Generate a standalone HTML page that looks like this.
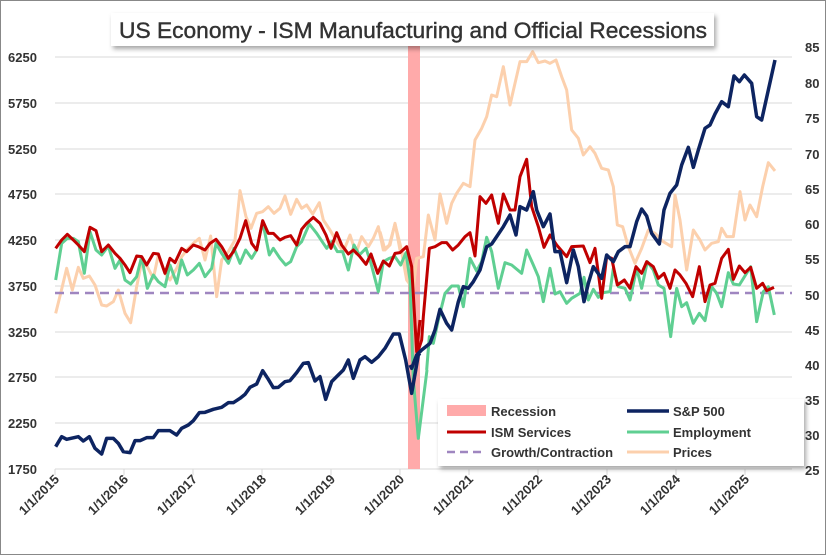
<!DOCTYPE html>
<html><head><meta charset="utf-8"><style>
body{margin:0;background:#fff;}
svg{display:block;font-family:"Liberation Sans",sans-serif;}
.ax{font-size:13px;font-weight:bold;fill:#333;}
.lg{font-size:13px;font-weight:bold;fill:#333;}
</style></head><body>
<svg width="826" height="555" viewBox="0 0 826 555">
<defs>
<filter id="sh" x="-5%" y="-20%" width="110%" height="160%"><feDropShadow dx="2" dy="3" stdDeviation="2.5" flood-color="#000" flood-opacity="0.35"/></filter>
</defs>
<rect x="0.5" y="0.5" width="825" height="554" fill="#fff" stroke="#888"/>
<g stroke="#d9d9d9" stroke-width="1">
<line x1="55" x2="792" y1="57" y2="57"/><line x1="55" x2="792" y1="103" y2="103"/><line x1="55" x2="792" y1="149" y2="149"/><line x1="55" x2="792" y1="194" y2="194"/><line x1="55" x2="792" y1="240" y2="240"/><line x1="55" x2="792" y1="286" y2="286"/><line x1="55" x2="792" y1="332" y2="332"/><line x1="55" x2="792" y1="377" y2="377"/><line x1="55" x2="792" y1="423" y2="423"/><line x1="55" x2="792" y1="469" y2="469"/>
<line x1="55" x2="55" y1="469" y2="475"/><line x1="124" x2="124" y1="469" y2="475"/><line x1="193" x2="193" y1="469" y2="475"/><line x1="262" x2="262" y1="469" y2="475"/><line x1="331" x2="331" y1="469" y2="475"/><line x1="400" x2="400" y1="469" y2="475"/><line x1="469" x2="469" y1="469" y2="475"/><line x1="538" x2="538" y1="469" y2="475"/><line x1="607" x2="607" y1="469" y2="475"/><line x1="676" x2="676" y1="469" y2="475"/><line x1="745" x2="745" y1="469" y2="475"/>
</g>
<rect x="408" y="45" width="12" height="424" fill="#ffaaaa"/>
<g class="ax" text-anchor="start">
<text x="8" y="62">6250</text><text x="8" y="108">5750</text><text x="8" y="154">5250</text><text x="8" y="199">4750</text><text x="8" y="245">4250</text><text x="8" y="291">3750</text><text x="8" y="337">3250</text><text x="8" y="382">2750</text><text x="8" y="428">2250</text><text x="8" y="474">1750</text>
<text x="805" y="52">85</text><text x="805" y="88">80</text><text x="805" y="123">75</text><text x="805" y="159">70</text><text x="805" y="194">65</text><text x="805" y="229">60</text><text x="805" y="264">55</text><text x="805" y="300">50</text><text x="805" y="335">45</text><text x="805" y="370">40</text><text x="805" y="405">35</text><text x="805" y="440">30</text><text x="805" y="475">25</text>
</g>
<g class="ax" text-anchor="end">
<text transform="translate(60,480) rotate(-45)">1/1/2015</text>
<text transform="translate(129,480) rotate(-45)">1/1/2016</text>
<text transform="translate(198,480) rotate(-45)">1/1/2017</text>
<text transform="translate(267,480) rotate(-45)">1/1/2018</text>
<text transform="translate(336,480) rotate(-45)">1/1/2019</text>
<text transform="translate(405,480) rotate(-45)">1/1/2020</text>
<text transform="translate(474,480) rotate(-45)">1/1/2021</text>
<text transform="translate(543,480) rotate(-45)">1/1/2022</text>
<text transform="translate(612,480) rotate(-45)">1/1/2023</text>
<text transform="translate(681,480) rotate(-45)">1/1/2024</text>
<text transform="translate(750,480) rotate(-45)">1/1/2025</text>
</g>
<g fill="none" stroke-linejoin="round">
<g transform="translate(40,180) scale(0.33333)">
<polyline vector-effect="non-scaling-stroke" stroke="#fcd0ad" stroke-width="3" points="47,400 62,340 80,265 97,330 115,262 130,295 148,288 165,315 185,375 200,378 220,365 235,330 255,400 272,428 290,320 305,245 322,260 340,295 355,225 375,280 390,300 410,265 425,230 442,208 460,190 478,175 495,240 512,168 530,350 545,240 565,215 585,180 600,32 618,110 633,145 650,100 668,95 685,80 702,100 720,85 735,48 752,103 770,58 785,85 800,75 818,102 838,68 850,120 870,150 890,185 910,215 930,165 948,220 965,170 985,200 1000,175 1015,140 1030,210 1048,195 1065,132 1082,200 1100,300 1115,320 1130,235"/>
</g>
<g transform="translate(380,40) scale(0.33333)">
<polyline vector-effect="non-scaling-stroke" stroke="#fcd0ad" stroke-width="3" points="0,575 15,630 30,615 45,550 60,630 75,650 85,720 100,750 110,655 130,650 145,525 165,600 180,462 200,550 215,490 230,460 250,430 270,440 285,300 305,265 320,230 335,165 350,170 370,80 390,195 405,130 420,65 440,65 458,35 475,68 495,63 510,70 528,60 545,110 560,150 575,270 595,295 610,345 630,320 645,340 665,385 685,390 700,440 712,555 728,560 745,620 765,670 785,625 805,570 825,580 850,605 875,620 885,465 900,540 920,690 940,570 960,600 975,630 995,610 1015,605 1025,565 1040,590 1060,590 1080,455 1095,540 1110,495 1130,530 1148,440 1165,368 1185,393"/>
</g>
<line x1="55" x2="792" y1="293" y2="293" stroke="#9f86c0" stroke-width="2.5" stroke-dasharray="9,6"/>
<g transform="translate(40,180) scale(0.33333)">
<polyline vector-effect="non-scaling-stroke" stroke="#5fcf92" stroke-width="3" points="47,300 65,190 82,175 100,175 115,185 133,280 150,155 168,210 185,225 205,198 225,265 240,240 255,300 272,312 290,290 305,230 322,325 340,285 355,305 375,320 390,255 410,310 425,240 442,285 460,270 478,250 495,290 515,265 528,190 545,220 565,250 582,205 600,250 617,210 635,235 650,210 668,125 688,225 700,205 720,235 737,255 752,245 770,200 785,185 808,132 830,160 860,205 875,185 892,215 908,215 925,270 942,195 958,225 978,205 993,250 1015,335 1030,245 1048,235 1065,230 1082,255 1098,218 1110,300 1120,600 1135,775 1161,570"/>
<polyline vector-effect="non-scaling-stroke" stroke="#c00000" stroke-width="3" points="47,205 65,180 82,163 100,180 115,195 133,215 150,142 168,152 185,215 205,195 225,220 240,235 255,255 270,278 290,228 305,230 320,255 340,220 355,222 375,280 390,235 405,248 425,205 440,215 460,195 475,200 495,210 510,190 528,178 545,200 565,235 580,215 600,175 617,122 635,190 650,210 668,122 685,160 700,160 720,180 735,172 752,167 770,195 785,148 800,130 820,112 840,130 858,165 873,205 890,158 905,195 925,222 940,210 958,228 978,253 993,222 1013,280 1030,243 1048,258 1065,220 1080,218 1100,200 1115,260 1130,515 1140,420"/>
<polyline vector-effect="non-scaling-stroke" stroke="#0d2461" stroke-width="3.5" points="47,800 65,770 80,778 115,770 130,783 148,770 165,805 185,822 200,775 220,775 235,790 250,815 270,818 285,782 300,782 320,773 340,773 355,752 390,752 410,765 425,745 445,735 460,722 478,698 495,697 520,688 545,682 565,668 580,668 600,655 615,643 630,622 650,612 668,572 685,598 700,623 715,622 735,605 750,602 770,578 790,550 805,548 825,603 840,590 857,658 875,605 890,590 910,570 925,540 940,595 960,540 975,530 995,547 1015,530 1035,505 1060,462 1078,462 1097,540 1115,640 1135,525 1140,520"/>
</g>
<g transform="translate(380,40) scale(0.33333)">
<polyline vector-effect="non-scaling-stroke" stroke="#5fcf92" stroke-width="3" points="140,990 148,890 160,910 175,840 195,760 215,738 235,738 250,800 270,655 290,693 305,665 320,592 335,635 355,745 375,668 395,675 425,700 440,630 460,675 475,710 490,785 510,685 525,762 540,755 560,790 575,775 600,760 612,712 625,780 640,748 655,772 670,758 690,755 700,685 715,740 735,745 750,780 770,685 785,745 802,665 820,690 835,735 852,745 872,890 890,745 905,800 920,788 940,850 958,820 975,842 995,740 1010,760 1025,800 1045,698 1060,732 1078,735 1112,680 1130,845 1150,755 1165,740 1183,825"/>
<polyline vector-effect="non-scaling-stroke" stroke="#c00000" stroke-width="3" points="112,940 125,900 130,830 148,625 165,620 185,608 200,608 218,630 235,615 255,590 270,578 285,648 300,470 318,490 335,465 355,550 370,462 390,510 405,510 420,410 440,358 455,500 475,560 492,622 510,585 530,615 560,650 575,620 610,618 630,668 645,625 665,775 680,650 695,655 712,735 733,720 750,745 768,680 785,700 800,665 820,680 835,715 852,700 870,745 885,690 900,705 918,730 938,770 958,680 975,785 990,735 1005,730 1025,655 1045,628 1060,718 1078,678 1095,698 1112,682 1130,745 1148,730 1160,752 1182,742"/>
<polyline vector-effect="non-scaling-stroke" stroke="#0d2461" stroke-width="3.5" points="90,975 95,985 110,945 125,930 150,910 165,870 180,808 200,850 215,870 235,785 250,740 265,745 280,725 300,690 320,620 335,612 350,590 370,560 390,525 408,585 420,500 440,510 460,455 470,510 490,560 510,522 525,635 540,635 560,728 580,630 595,680 612,785 625,730 640,680 665,715 680,645 700,665 715,635 735,620 750,620 770,545 785,507 800,528 815,580 838,612 852,510 870,460 890,435 905,375 925,322 940,382 955,330 975,265 990,255 1005,222 1025,185 1045,200 1062,108 1078,125 1093,105 1115,130 1130,230 1145,240 1165,150 1185,60"/>
</g>
</g>
<g filter="url(#sh)"><rect x="438" y="399" width="366" height="67" fill="#fff"/></g>
<rect x="447" y="405" width="39" height="11" fill="#ffaaaa"/>
<line x1="627" x2="669" y1="411" y2="411" stroke="#0d2461" stroke-width="3.5"/>
<line x1="447" x2="486" y1="432" y2="432" stroke="#c00000" stroke-width="3"/>
<line x1="627" x2="669" y1="432" y2="432" stroke="#5fcf92" stroke-width="3"/>
<line x1="447" x2="486" y1="452" y2="452" stroke="#9f86c0" stroke-width="2.5" stroke-dasharray="8,5"/>
<line x1="627" x2="669" y1="452" y2="452" stroke="#fcd0ad" stroke-width="3"/>
<g class="lg">
<text x="491" y="416">Recession</text><text x="673" y="416">S&amp;P 500</text>
<text x="491" y="437">ISM Services</text><text x="673" y="437">Employment</text>
<text x="491" y="457">Growth/Contraction</text><text x="673" y="457">Prices</text>
</g>
<g filter="url(#sh)"><rect x="111" y="13" width="603" height="33" fill="#fff"/></g>
<text x="119" y="38" font-size="22" fill="#333" stroke="#333" stroke-width="0.4" textLength="588" lengthAdjust="spacingAndGlyphs">US Economy - ISM Manufacturing and Official Recessions</text>
</svg>
</body></html>
